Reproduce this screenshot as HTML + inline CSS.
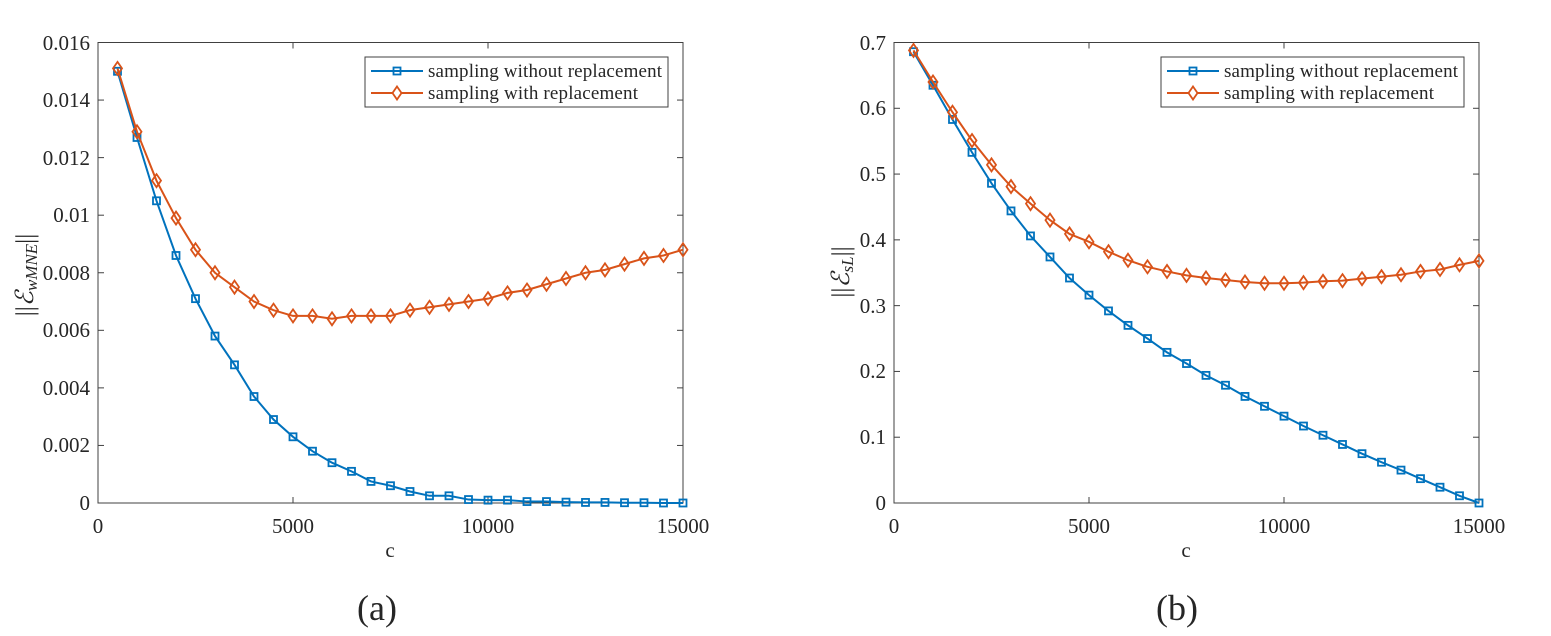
<!DOCTYPE html>
<html><head><meta charset="utf-8"><style>
body{margin:0;background:#fff}
svg text{font-family:"Liberation Serif",serif;fill:#262626}
</style></head><body>
<svg id="s" width="1551" height="631" xmlns="http://www.w3.org/2000/svg">
<g font-size="21">
<!-- left axes -->
<rect x="98" y="42.5" width="585" height="460.5" fill="none" stroke="#404040" stroke-width="1"/>
<g text-anchor="end">
<text x="90" y="510">0</text><text x="90" y="452">0.002</text><text x="90" y="395">0.004</text><text x="90" y="337">0.006</text><text x="90" y="280">0.008</text><text x="90" y="222">0.01</text><text x="90" y="165">0.012</text><text x="90" y="107">0.014</text><text x="90" y="50">0.016</text>
</g>
<g text-anchor="middle">
<text x="98" y="533">0</text><text x="293" y="533">5000</text><text x="488" y="533">10000</text><text x="683" y="533">15000</text>
<text x="390" y="557">c</text>
</g>
<text transform="translate(33,275) rotate(-90)" text-anchor="middle" font-size="25">||<tspan font-style="italic">ℰ</tspan><tspan font-style="italic" font-size="17" dy="4">wMNE</tspan><tspan dy="-4">||</tspan></text>
<!-- right axes -->
<rect x="894" y="42.5" width="585" height="460.5" fill="none" stroke="#404040" stroke-width="1"/>
<g text-anchor="end">
<text x="886" y="510">0</text><text x="886" y="444">0.1</text><text x="886" y="378">0.2</text><text x="886" y="313">0.3</text><text x="886" y="247">0.4</text><text x="886" y="181">0.5</text><text x="886" y="115">0.6</text><text x="886" y="50">0.7</text>
</g>
<g text-anchor="middle">
<text x="894" y="533">0</text><text x="1089" y="533">5000</text><text x="1284" y="533">10000</text><text x="1479" y="533">15000</text>
<text x="1186" y="557">c</text>
</g>
<text transform="translate(849,272) rotate(-90)" text-anchor="middle" font-size="25">||<tspan font-style="italic">ℰ</tspan><tspan font-style="italic" font-size="17" dy="4">sL</tspan><tspan dy="-4">||</tspan></text>
<text x="377" y="620" text-anchor="middle" font-size="36">(a)</text>
<text x="1177" y="620" text-anchor="middle" font-size="36">(b)</text>
<!-- legends -->
<rect x="365" y="57" width="303" height="50" fill="#fff" stroke="#404040"/>
<text x="428" y="77" font-size="19" textLength="234">sampling without replacement</text>
<text x="428" y="99" font-size="19" textLength="210">sampling with replacement</text>
<rect x="1161" y="57" width="303" height="50" fill="#fff" stroke="#404040"/>
<text x="1224" y="77" font-size="19" textLength="234">sampling without replacement</text>
<text x="1224" y="99" font-size="19" textLength="210">sampling with replacement</text>
</g>
<g id="plots"></g>
</svg>
<script>
const B='#0072BD',O='#D95319';
const lo=[0.0151,0.0129,0.0112,0.0099,0.0088,0.0080,0.0075,0.0070,0.0067,0.0065,0.0065,0.0064,0.0065,0.0065,0.0065,0.0067,0.0068,0.0069,0.0070,0.0071,0.0073,0.0074,0.0076,0.0078,0.0080,0.0081,0.0083,0.0085,0.0086,0.0088];
const lb=[0.0150,0.0127,0.0105,0.0086,0.0071,0.0058,0.0048,0.0037,0.0029,0.0023,0.0018,0.0014,0.0011,0.00075,0.0006,0.0004,0.00025,0.00025,0.00012,0.0001,0.0001,0.00005,0.00005,0.00003,0.00002,0.00002,0.00001,0.00001,0,0];
const ro=[0.688,0.640,0.594,0.551,0.514,0.481,0.455,0.430,0.409,0.397,0.382,0.369,0.359,0.352,0.346,0.342,0.339,0.336,0.334,0.334,0.335,0.337,0.338,0.341,0.344,0.347,0.352,0.355,0.362,0.368];
const rb=[0.686,0.635,0.583,0.533,0.486,0.444,0.406,0.374,0.342,0.316,0.292,0.270,0.250,0.229,0.212,0.194,0.179,0.162,0.147,0.132,0.117,0.103,0.089,0.075,0.062,0.050,0.037,0.024,0.011,0.0];
let h='';
function tick(x0,ys,xs){let t='';for(const y of ys)t+=`<line x1="${x0}" x2="${x0+6}" y1="${y}" y2="${y}" stroke="#404040"/><line x1="${x0+585}" x2="${x0+579}" y1="${y}" y2="${y}" stroke="#404040"/>`;
for(const x of xs)t+=`<line x1="${x}" x2="${x}" y1="503" y2="497" stroke="#404040"/><line x1="${x}" x2="${x}" y1="42.5" y2="48.5" stroke="#404040"/>`;return t;}
const ly=[],ry=[];for(let i=0;i<=8;i++)ly.push(503-i*57.5625);for(let i=0;i<=7;i++)ry.push(503-i*460.5/7);
h+=tick(98,ly,[293,488])+tick(894,ry,[1089,1284]);
function ser(x0,vals,max,col,mk){const pts=vals.map((v,i)=>[x0+(i+1)*500*585/15000,503-v/max*460.5]);
let s=`<polyline fill="none" stroke="${col}" stroke-width="2" points="${pts.map(p=>p.join(',')).join(' ')}"/>`;
for(const[x,y]of pts){if(mk=='s')s+=`<rect x="${x-3.5}" y="${y-3.5}" width="7" height="7" fill="none" stroke="${col}" stroke-width="1.8"/>`;
else s+=`<polygon points="${x},${y-6.5} ${x+4.5},${y} ${x},${y+6.5} ${x-4.5},${y}" fill="none" stroke="${col}" stroke-width="1.8"/>`;}return s;}
h+=ser(98,lb,0.016,B,'s')+ser(98,lo,0.016,O,'d')+ser(894,rb,0.7,B,'s')+ser(894,ro,0.7,O,'d');
function leg(x){return `<line x1="${x}" x2="${x+52}" y1="71" y2="71" stroke="${B}" stroke-width="2"/><rect x="${x+22.5}" y="67.5" width="7" height="7" fill="none" stroke="${B}" stroke-width="1.8"/><line x1="${x}" x2="${x+52}" y1="93" y2="93" stroke="${O}" stroke-width="2"/><polygon points="${x+26},86.5 ${x+30.5},93 ${x+26},99.5 ${x+21.5},93" fill="#fff" stroke="${O}" stroke-width="1.8"/>`;}
h+=leg(371)+leg(1167);
document.getElementById('plots').innerHTML=h;
</script>
</body></html>
